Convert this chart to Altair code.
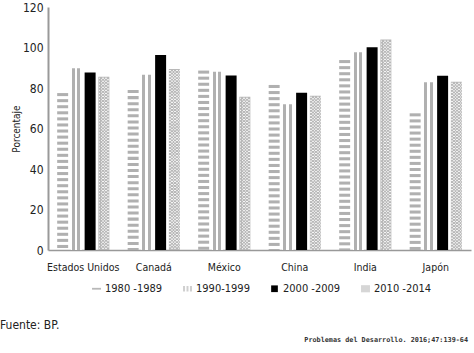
import altair as alt
import pandas as pd

countries = ["Estados Unidos", "Canadá", "México", "China", "India", "Japón"]
series = ["1980 -1989", "1990-1999", "2000 -2009", "2010 -2014"]
v1980 = [77.5, 79.0, 88.6, 81.5, 93.8, 67.5]
v1990 = [89.7, 86.6, 88.0, 72.0, 97.6, 82.8]
v2000 = [87.7, 96.3, 86.2, 77.7, 100.1, 86.0]
v2010 = [85.6, 89.4, 75.7, 76.2, 103.9, 83.1]

rows = []
for s, vals in zip(series, [v1980, v1990, v2000, v2010]):
    for c, v in zip(countries, vals):
        rows.append({"country": c, "series": s, "value": v})
df = pd.DataFrame(rows)

FONT = "'DejaVu Sans Condensed', 'Liberation Sans Narrow', Roboto, sans-serif"
GRAY = "#b0b0b0"

x_enc = alt.X("country:N", sort=countries,
              scale=alt.Scale(domain=countries, paddingInner=0.26, paddingOuter=0.13),
              axis=alt.Axis(title=None, labelAngle=0, ticks=False, labelPadding=12,
                            labelFontSize=10.5, labelFont=FONT, labelColor="#222",
                            domainColor="#999", domainWidth=1.5))
xo_enc = alt.XOffset("series:N", sort=series,
                     scale=alt.Scale(domain=series, paddingInner=0.2, paddingOuter=0))
y_scale = alt.Scale(domain=[0, 120], nice=False)
y_axis = alt.Axis(title="Porcentaje", values=[0, 20, 40, 60, 80, 100, 120], grid=False,
                  ticks=False, labelPadding=5, labelFontSize=12, labelFont=FONT,
                  labelColor="#222", domainColor="#999", domainWidth=2,
                  titleFont=FONT, titleFontSize=10, titleFontWeight="normal",
                  titleColor="#222", titlePadding=1)

base = alt.Chart(df)

# 1980-1989: horizontal gray stripes
l1980 = base.transform_filter(alt.datum.series == series[0]).transform_calculate(
    k="sequence(0, datum.value, 3)"
).transform_flatten(["k"]).transform_calculate(
    top="datum.value - datum.k", bot="max(datum.value - datum.k - 1.5, 0)"
).mark_bar(color=GRAY).encode(
    x=x_enc, xOffset=xo_enc,
    y=alt.Y("top:Q", scale=y_scale, axis=y_axis), y2="bot:Q")

# 1990-1999: vertical stripes
grad_v = alt.Gradient(gradient="linear", x1=0, x2=1, y1=0, y2=0, stops=[
    alt.GradientStop(color="white", offset=0),
    alt.GradientStop(color="white", offset=0.08),
    alt.GradientStop(color=GRAY, offset=0.08),
    alt.GradientStop(color=GRAY, offset=0.36),
    alt.GradientStop(color="white", offset=0.36),
    alt.GradientStop(color="white", offset=0.56),
    alt.GradientStop(color=GRAY, offset=0.56),
    alt.GradientStop(color=GRAY, offset=0.86),
    alt.GradientStop(color="white", offset=0.86),
    alt.GradientStop(color="white", offset=1),
])
l1990 = base.transform_filter(alt.datum.series == series[1]).mark_bar(color=grad_v).encode(
    x=x_enc, xOffset=xo_enc, y=alt.Y("value:Q", scale=y_scale, axis=y_axis))

# 2000-2009: solid black
l2000 = base.transform_filter(alt.datum.series == series[2]).mark_bar(color="black").encode(
    x=x_enc, xOffset=xo_enc, y=alt.Y("value:Q", scale=y_scale, axis=y_axis))

# 2010-2014: gray with white dots
l2010 = base.transform_filter(alt.datum.series == series[3]).mark_bar(color="#b8b8b8").encode(
    x=x_enc, xOffset=xo_enc, y=alt.Y("value:Q", scale=y_scale, axis=y_axis))


def dot_grad(start):
    stops = []
    period = 0.3
    o = start
    stops.append(alt.GradientStop(color="rgba(255,255,255,0)", offset=0))
    while o < 1:
        e = min(o + 0.14, 1)
        stops.append(alt.GradientStop(color="rgba(255,255,255,0)", offset=round(o, 3)))
        stops.append(alt.GradientStop(color="white", offset=round(o, 3)))
        stops.append(alt.GradientStop(color="white", offset=round(e, 3)))
        stops.append(alt.GradientStop(color="rgba(255,255,255,0)", offset=round(e, 3)))
        o += period
    stops.append(alt.GradientStop(color="rgba(255,255,255,0)", offset=1))
    return alt.Gradient(gradient="linear", x1=0, x2=1, y1=0, y2=0, stops=stops)


dots = []
for phase, start in [(0.5, 0.05), (1.25, 0.2)]:
    dots.append(base.transform_filter(alt.datum.series == series[3]).transform_calculate(
        k="sequence(%s, datum.value - 0.6, 1.5)" % phase
    ).transform_flatten(["k"]).transform_calculate(
        top="datum.value - datum.k", bot="datum.value - datum.k - 0.55"
    ).mark_bar(color=dot_grad(start), opacity=0.85).encode(
        x=x_enc, xOffset=xo_enc,
        y=alt.Y("top:Q", scale=y_scale, axis=y_axis), y2="bot:Q"))

# legend
shapes = [
    "M-1,-0.2H1V0.2H-1Z",
    "M-1,-0.6H-0.55V0.6H-1Z M-0.22,-0.6H0.22V0.6H-0.22Z M0.55,-0.6H1V0.6H0.55Z",
    "M-0.75,-0.75H0.75V0.75H-0.75Z",
    "M-1,-0.8H1V0.8H-1Z",
]
colors = ["#b8b8b8", "#cfcfcf", "black", "#d6d6d6"]
legend_layer = base.transform_filter("false").mark_point(filled=True, opacity=1).encode(
    x=x_enc,
    y=alt.Y("value:Q", scale=y_scale, axis=y_axis),
    color=alt.Color("series:N", scale=alt.Scale(domain=series, range=colors),
                    legend=alt.Legend(title=None, orient="none", direction="horizontal",
                                      legendX=43, legendY=276, symbolSize=80,
                                      labelFont=FONT, labelFontSize=11, labelColor="#222",
                                      columnPadding=19, labelOffset=3)),
    shape=alt.Shape("series:N", scale=alt.Scale(domain=series, range=shapes), legend=None),
)

note = alt.Chart(pd.DataFrame({"t": ["Fuente: BP."]})).mark_text(
    align="left", baseline="middle", font=FONT, fontSize=12, color="#222"
).encode(x=alt.value(-48), y=alt.value(318), text="t:N")

credit = alt.Chart(pd.DataFrame({"t": ["Problemas del Desarrollo. 2016;47:139-64"]})).mark_text(
    align="right", baseline="middle", font="DejaVu Sans Mono", fontSize=6.8,
    fontWeight="bold", color="#333"
).encode(x=alt.value(420), y=alt.value(333), text="t:N")

chart = alt.layer(l1980, l1990, l2000, l2010, *dots, legend_layer, note, credit).properties(
    width=423, height=243,
    padding={"left": 48, "top": 7, "right": 3, "bottom": 103},
    autosize=alt.AutoSizeParams(type="none"),
).configure_view(stroke=None)

chart.save("out.html", embed_options={"renderer": "svg", "actions": False})
